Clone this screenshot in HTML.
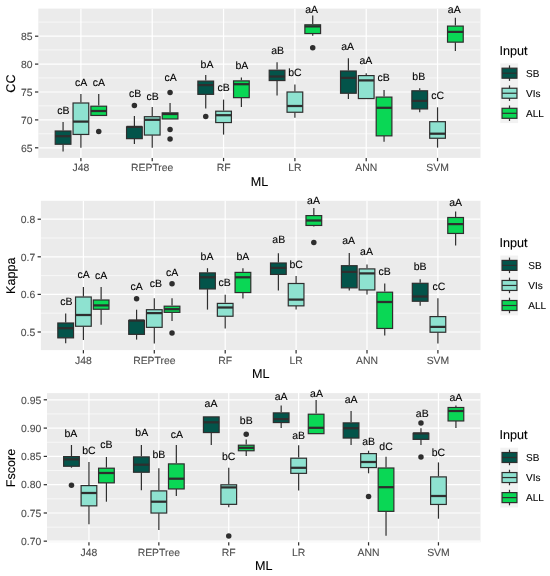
<!DOCTYPE html>
<html><head><meta charset="utf-8"><title>Boxplots</title>
<style>html,body{margin:0;padding:0;background:#fff}svg{display:block}text{font-family:"Liberation Sans",Arial,sans-serif;text-rendering:geometricPrecision;stroke-width:0.1px}text[fill="#000"]{stroke:#000}text[fill="#4D4D4D"]{stroke:#4D4D4D}</style></head><body>
<svg width="550" height="576" viewBox="0 0 550 576">
<rect width="550" height="576" fill="#fff"/>
<g>
<rect x="38.3" y="8.6" width="442.20" height="149.30" fill="#EBEBEB"/>
<clipPath id="cp0"><rect x="38.3" y="8.6" width="442.20" height="149.30"/></clipPath>
<g clip-path="url(#cp0)" stroke="#fff" fill="none">
<line x1="38.3" x2="480.5" y1="22.05" y2="22.05" stroke-width="0.62"/>
<line x1="38.3" x2="480.5" y1="49.95" y2="49.95" stroke-width="0.62"/>
<line x1="38.3" x2="480.5" y1="77.95" y2="77.95" stroke-width="0.62"/>
<line x1="38.3" x2="480.5" y1="105.85" y2="105.85" stroke-width="0.62"/>
<line x1="38.3" x2="480.5" y1="133.75" y2="133.75" stroke-width="0.62"/>
<line x1="38.3" x2="480.5" y1="36.2" y2="36.2" stroke-width="1.22"/>
<line x1="38.3" x2="480.5" y1="64.1" y2="64.1" stroke-width="1.22"/>
<line x1="38.3" x2="480.5" y1="92.0" y2="92.0" stroke-width="1.22"/>
<line x1="38.3" x2="480.5" y1="119.9" y2="119.9" stroke-width="1.22"/>
<line x1="38.3" x2="480.5" y1="147.8" y2="147.8" stroke-width="1.22"/>
<line x1="80.90" x2="80.90" y1="8.6" y2="157.9" stroke-width="1.22"/>
<line x1="152.23" x2="152.23" y1="8.6" y2="157.9" stroke-width="1.22"/>
<line x1="223.56" x2="223.56" y1="8.6" y2="157.9" stroke-width="1.22"/>
<line x1="294.89" x2="294.89" y1="8.6" y2="157.9" stroke-width="1.22"/>
<line x1="366.22" x2="366.22" y1="8.6" y2="157.9" stroke-width="1.22"/>
<line x1="437.55" x2="437.55" y1="8.6" y2="157.9" stroke-width="1.22"/>
</g>
<line x1="63.07" x2="63.07" y1="122" y2="130.4" stroke="#2E2E2E" stroke-width="1.2"/>
<line x1="63.07" x2="63.07" y1="144.4" y2="151.5" stroke="#2E2E2E" stroke-width="1.2"/>
<rect x="55.22" y="131.00" width="15.7" height="13.25" fill="#03544A" stroke="#2E2E2E" stroke-width="1.2"/>
<line x1="55.22" x2="70.92" y1="136.2" y2="136.2" stroke="#2E2E2E" stroke-width="2.25"/>
<line x1="80.90" x2="80.90" y1="94" y2="102.4" stroke="#2E2E2E" stroke-width="1.2"/>
<line x1="80.90" x2="80.90" y1="134.6" y2="147.70000000000002" stroke="#2E2E2E" stroke-width="1.2"/>
<rect x="73.05" y="103.00" width="15.7" height="31.45" fill="#8EE2D0" stroke="#2E2E2E" stroke-width="1.2"/>
<line x1="73.05" x2="88.75" y1="121.6" y2="121.6" stroke="#2E2E2E" stroke-width="2.25"/>
<circle cx="98.73" cy="131.4" r="2.75" fill="#2E2E2E"/>
<line x1="98.73" x2="98.73" y1="94" y2="105.6" stroke="#2E2E2E" stroke-width="1.2"/>
<rect x="90.88" y="106.20" width="15.7" height="9.25" fill="#0AD755" stroke="#2E2E2E" stroke-width="1.2"/>
<line x1="90.88" x2="106.58" y1="111" y2="111" stroke="#2E2E2E" stroke-width="2.25"/>
<circle cx="134.40" cy="105.5" r="2.75" fill="#2E2E2E"/>
<line x1="134.40" x2="134.40" y1="116.1" y2="126.3" stroke="#2E2E2E" stroke-width="1.2"/>
<line x1="134.40" x2="134.40" y1="138.8" y2="144.10000000000002" stroke="#2E2E2E" stroke-width="1.2"/>
<rect x="126.55" y="126.90" width="15.7" height="11.75" fill="#03544A" stroke="#2E2E2E" stroke-width="1.2"/>
<line x1="126.55" x2="142.25" y1="126.9" y2="126.9" stroke="#2E2E2E" stroke-width="2.25"/>
<line x1="152.23" x2="152.23" y1="107" y2="116.1" stroke="#2E2E2E" stroke-width="1.2"/>
<line x1="152.23" x2="152.23" y1="135.2" y2="147.70000000000002" stroke="#2E2E2E" stroke-width="1.2"/>
<rect x="144.38" y="116.70" width="15.7" height="18.35" fill="#8EE2D0" stroke="#2E2E2E" stroke-width="1.2"/>
<line x1="144.38" x2="160.08" y1="119.8" y2="119.8" stroke="#2E2E2E" stroke-width="2.25"/>
<circle cx="170.06" cy="92.4" r="2.75" fill="#2E2E2E"/>
<circle cx="170.06" cy="129.6" r="2.75" fill="#2E2E2E"/>
<circle cx="170.06" cy="138.9" r="2.75" fill="#2E2E2E"/>
<line x1="170.06" x2="170.06" y1="103" y2="112.3" stroke="#2E2E2E" stroke-width="1.2"/>
<rect x="162.21" y="112.90" width="15.7" height="6.05" fill="#0AD755" stroke="#2E2E2E" stroke-width="1.2"/>
<line x1="162.21" x2="177.91" y1="114.0" y2="114.0" stroke="#2E2E2E" stroke-width="2.25"/>
<circle cx="205.73" cy="116.4" r="2.75" fill="#2E2E2E"/>
<line x1="205.73" x2="205.73" y1="75" y2="80.5" stroke="#2E2E2E" stroke-width="1.2"/>
<line x1="205.73" x2="205.73" y1="94.5" y2="108.5" stroke="#2E2E2E" stroke-width="1.2"/>
<rect x="197.88" y="81.10" width="15.7" height="13.25" fill="#03544A" stroke="#2E2E2E" stroke-width="1.2"/>
<line x1="197.88" x2="213.58" y1="85.1" y2="85.1" stroke="#2E2E2E" stroke-width="2.25"/>
<line x1="223.56" x2="223.56" y1="99.6" y2="110.6" stroke="#2E2E2E" stroke-width="1.2"/>
<line x1="223.56" x2="223.56" y1="122.7" y2="134.60000000000002" stroke="#2E2E2E" stroke-width="1.2"/>
<rect x="215.71" y="111.20" width="15.7" height="11.35" fill="#8EE2D0" stroke="#2E2E2E" stroke-width="1.2"/>
<line x1="215.71" x2="231.41" y1="115.2" y2="115.2" stroke="#2E2E2E" stroke-width="2.25"/>
<line x1="241.39" x2="241.39" y1="77.4" y2="80.3" stroke="#2E2E2E" stroke-width="1.2"/>
<line x1="241.39" x2="241.39" y1="97.8" y2="106.89999999999999" stroke="#2E2E2E" stroke-width="1.2"/>
<rect x="233.54" y="80.90" width="15.7" height="16.75" fill="#0AD755" stroke="#2E2E2E" stroke-width="1.2"/>
<line x1="233.54" x2="249.24" y1="84.2" y2="84.2" stroke="#2E2E2E" stroke-width="2.25"/>
<line x1="277.06" x2="277.06" y1="62.3" y2="69.6" stroke="#2E2E2E" stroke-width="1.2"/>
<line x1="277.06" x2="277.06" y1="80.7" y2="95.39999999999999" stroke="#2E2E2E" stroke-width="1.2"/>
<rect x="269.21" y="70.20" width="15.7" height="10.35" fill="#03544A" stroke="#2E2E2E" stroke-width="1.2"/>
<line x1="269.21" x2="284.91" y1="76.5" y2="76.5" stroke="#2E2E2E" stroke-width="2.25"/>
<line x1="294.89" x2="294.89" y1="84.5" y2="91.4" stroke="#2E2E2E" stroke-width="1.2"/>
<line x1="294.89" x2="294.89" y1="112.4" y2="117.8" stroke="#2E2E2E" stroke-width="1.2"/>
<rect x="287.04" y="92.00" width="15.7" height="20.25" fill="#8EE2D0" stroke="#2E2E2E" stroke-width="1.2"/>
<line x1="287.04" x2="302.74" y1="106" y2="106" stroke="#2E2E2E" stroke-width="2.25"/>
<circle cx="312.72" cy="47.7" r="2.75" fill="#2E2E2E"/>
<line x1="312.72" x2="312.72" y1="15.5" y2="24.2" stroke="#2E2E2E" stroke-width="1.2"/>
<line x1="312.72" x2="312.72" y1="33.7" y2="35.8" stroke="#2E2E2E" stroke-width="1.2"/>
<rect x="304.87" y="24.80" width="15.7" height="8.75" fill="#0AD755" stroke="#2E2E2E" stroke-width="1.2"/>
<line x1="304.87" x2="320.57" y1="26.4" y2="26.4" stroke="#2E2E2E" stroke-width="2.25"/>
<line x1="348.39" x2="348.39" y1="58.2" y2="70.4" stroke="#2E2E2E" stroke-width="1.2"/>
<line x1="348.39" x2="348.39" y1="93.4" y2="99.1" stroke="#2E2E2E" stroke-width="1.2"/>
<rect x="340.54" y="71.00" width="15.7" height="22.25" fill="#03544A" stroke="#2E2E2E" stroke-width="1.2"/>
<line x1="340.54" x2="356.24" y1="77.9" y2="77.9" stroke="#2E2E2E" stroke-width="2.25"/>
<line x1="366.22" x2="366.22" y1="73.3" y2="75" stroke="#2E2E2E" stroke-width="1.2"/>
<rect x="358.37" y="75.60" width="15.7" height="22.95" fill="#8EE2D0" stroke="#2E2E2E" stroke-width="1.2"/>
<line x1="358.37" x2="374.07" y1="80.4" y2="80.4" stroke="#2E2E2E" stroke-width="2.25"/>
<line x1="384.05" x2="384.05" y1="90.1" y2="96.5" stroke="#2E2E2E" stroke-width="1.2"/>
<line x1="384.05" x2="384.05" y1="136" y2="141.8" stroke="#2E2E2E" stroke-width="1.2"/>
<rect x="376.20" y="97.10" width="15.7" height="38.75" fill="#0AD755" stroke="#2E2E2E" stroke-width="1.2"/>
<line x1="376.20" x2="391.90" y1="107.8" y2="107.8" stroke="#2E2E2E" stroke-width="2.25"/>
<line x1="419.72" x2="419.72" y1="88.3" y2="90.2" stroke="#2E2E2E" stroke-width="1.2"/>
<line x1="419.72" x2="419.72" y1="109.1" y2="112.3" stroke="#2E2E2E" stroke-width="1.2"/>
<rect x="411.87" y="90.80" width="15.7" height="18.15" fill="#03544A" stroke="#2E2E2E" stroke-width="1.2"/>
<line x1="411.87" x2="427.57" y1="100.9" y2="100.9" stroke="#2E2E2E" stroke-width="2.25"/>
<line x1="437.55" x2="437.55" y1="107.3" y2="121.1" stroke="#2E2E2E" stroke-width="1.2"/>
<line x1="437.55" x2="437.55" y1="138.4" y2="147.60000000000002" stroke="#2E2E2E" stroke-width="1.2"/>
<rect x="429.70" y="121.70" width="15.7" height="16.55" fill="#8EE2D0" stroke="#2E2E2E" stroke-width="1.2"/>
<line x1="429.70" x2="445.40" y1="133.7" y2="133.7" stroke="#2E2E2E" stroke-width="2.25"/>
<line x1="455.38" x2="455.38" y1="17.7" y2="25.5" stroke="#2E2E2E" stroke-width="1.2"/>
<line x1="455.38" x2="455.38" y1="42.3" y2="50.9" stroke="#2E2E2E" stroke-width="1.2"/>
<rect x="447.53" y="26.10" width="15.7" height="16.05" fill="#0AD755" stroke="#2E2E2E" stroke-width="1.2"/>
<line x1="447.53" x2="463.23" y1="31.9" y2="31.9" stroke="#2E2E2E" stroke-width="2.25"/>
<text x="63.27" y="113.6" font-size="10.5" text-anchor="middle" fill="#000">cB</text>
<text x="81.10" y="85.6" font-size="10.5" text-anchor="middle" fill="#000">cA</text>
<text x="98.93" y="85.6" font-size="10.5" text-anchor="middle" fill="#000">cA</text>
<text x="135.20" y="97.3" font-size="10.5" text-anchor="middle" fill="#000">cB</text>
<text x="152.53" y="99.7" font-size="10.5" text-anchor="middle" fill="#000">cB</text>
<text x="170.56" y="80.9" font-size="10.5" text-anchor="middle" fill="#000">cA</text>
<text x="207.03" y="67.8" font-size="10.5" text-anchor="middle" fill="#000">bA</text>
<text x="223.66" y="91.4" font-size="10.5" text-anchor="middle" fill="#000">cB</text>
<text x="241.89" y="68.7" font-size="10.5" text-anchor="middle" fill="#000">bA</text>
<text x="277.66" y="53.7" font-size="10.5" text-anchor="middle" fill="#000">aB</text>
<text x="294.99" y="75.6" font-size="10.5" text-anchor="middle" fill="#000">bC</text>
<text x="311.62" y="12.9" font-size="10.5" text-anchor="middle" fill="#000">aA</text>
<text x="347.69" y="49.5" font-size="10.5" text-anchor="middle" fill="#000">aA</text>
<text x="365.92" y="64.2" font-size="10.5" text-anchor="middle" fill="#000">aA</text>
<text x="383.75" y="81" font-size="10.5" text-anchor="middle" fill="#000">cB</text>
<text x="418.72" y="79.6" font-size="10.5" text-anchor="middle" fill="#000">bB</text>
<text x="437.65" y="99.1" font-size="10.5" text-anchor="middle" fill="#000">cC</text>
<text x="454.28" y="13.3" font-size="10.5" text-anchor="middle" fill="#000">aA</text>
<line x1="35.00" x2="38.3" y1="36.2" y2="36.2" stroke="#2E2E2E" stroke-width="1.22"/>
<text x="32.60" y="39.90" font-size="10.4" text-anchor="end" fill="#4D4D4D">85</text>
<line x1="35.00" x2="38.3" y1="64.1" y2="64.1" stroke="#2E2E2E" stroke-width="1.22"/>
<text x="32.60" y="67.80" font-size="10.4" text-anchor="end" fill="#4D4D4D">80</text>
<line x1="35.00" x2="38.3" y1="92.0" y2="92.0" stroke="#2E2E2E" stroke-width="1.22"/>
<text x="32.60" y="95.70" font-size="10.4" text-anchor="end" fill="#4D4D4D">75</text>
<line x1="35.00" x2="38.3" y1="119.9" y2="119.9" stroke="#2E2E2E" stroke-width="1.22"/>
<text x="32.60" y="123.60" font-size="10.4" text-anchor="end" fill="#4D4D4D">70</text>
<line x1="35.00" x2="38.3" y1="147.8" y2="147.8" stroke="#2E2E2E" stroke-width="1.22"/>
<text x="32.60" y="151.50" font-size="10.4" text-anchor="end" fill="#4D4D4D">65</text>
<line x1="80.90" x2="80.90" y1="157.9" y2="161.20" stroke="#2E2E2E" stroke-width="1.22"/>
<text x="80.90" y="171.4" font-size="10.4" text-anchor="middle" fill="#4D4D4D">J48</text>
<line x1="152.23" x2="152.23" y1="157.9" y2="161.20" stroke="#2E2E2E" stroke-width="1.22"/>
<text x="152.23" y="171.4" font-size="10.4" text-anchor="middle" fill="#4D4D4D">REPTree</text>
<line x1="223.56" x2="223.56" y1="157.9" y2="161.20" stroke="#2E2E2E" stroke-width="1.22"/>
<text x="223.56" y="171.4" font-size="10.4" text-anchor="middle" fill="#4D4D4D">RF</text>
<line x1="294.89" x2="294.89" y1="157.9" y2="161.20" stroke="#2E2E2E" stroke-width="1.22"/>
<text x="294.89" y="171.4" font-size="10.4" text-anchor="middle" fill="#4D4D4D">LR</text>
<line x1="366.22" x2="366.22" y1="157.9" y2="161.20" stroke="#2E2E2E" stroke-width="1.22"/>
<text x="366.22" y="171.4" font-size="10.4" text-anchor="middle" fill="#4D4D4D">ANN</text>
<line x1="437.55" x2="437.55" y1="157.9" y2="161.20" stroke="#2E2E2E" stroke-width="1.22"/>
<text x="437.55" y="171.4" font-size="10.4" text-anchor="middle" fill="#4D4D4D">SVM</text>
<text x="259.40" y="186.0" font-size="12.6" text-anchor="middle" fill="#000">ML</text>
<text transform="translate(15.2 83.55) rotate(-90)" font-size="12.6" text-anchor="middle" fill="#000">CC</text>
<text x="499.6" y="54.70" font-size="12.6" fill="#000">Input</text>
<rect x="500.3" y="63.38" width="17.8" height="59.75" fill="#F2F2F2"/>
<line x1="509.5" x2="509.5" y1="65.40" y2="80.90" stroke="#2E2E2E" stroke-width="1.2"/>
<rect x="502.05" y="68.20" width="14.9" height="10.0" fill="#03544A" stroke="#2E2E2E" stroke-width="1.2"/>
<line x1="502.05" x2="516.95" y1="73.2" y2="73.2" stroke="#2E2E2E" stroke-width="1.2"/>
<text x="526.0" y="76.80" font-size="10.0" fill="#000">SB</text>
<line x1="509.5" x2="509.5" y1="85.45" y2="100.95" stroke="#2E2E2E" stroke-width="1.2"/>
<rect x="502.05" y="88.25" width="14.9" height="10.0" fill="#8EE2D0" stroke="#2E2E2E" stroke-width="1.2"/>
<line x1="502.05" x2="516.95" y1="93.25" y2="93.25" stroke="#2E2E2E" stroke-width="1.2"/>
<text x="526.0" y="96.85" font-size="10.0" fill="#000">VIs</text>
<line x1="509.5" x2="509.5" y1="105.50" y2="121.00" stroke="#2E2E2E" stroke-width="1.2"/>
<rect x="502.05" y="108.30" width="14.9" height="10.0" fill="#0AD755" stroke="#2E2E2E" stroke-width="1.2"/>
<line x1="502.05" x2="516.95" y1="113.30000000000001" y2="113.30000000000001" stroke="#2E2E2E" stroke-width="1.2"/>
<text x="526.0" y="116.90" font-size="10.0" fill="#000">ALL</text>
</g>
<g>
<rect x="40.9" y="200.8" width="439.60" height="149.30" fill="#EBEBEB"/>
<clipPath id="cp1"><rect x="40.9" y="200.8" width="439.60" height="149.30"/></clipPath>
<g clip-path="url(#cp1)" stroke="#fff" fill="none">
<line x1="40.9" x2="480.5" y1="238.0" y2="238.0" stroke-width="0.62"/>
<line x1="40.9" x2="480.5" y1="275.6" y2="275.6" stroke-width="0.62"/>
<line x1="40.9" x2="480.5" y1="313.2" y2="313.2" stroke-width="0.62"/>
<line x1="40.9" x2="480.5" y1="219.2" y2="219.2" stroke-width="1.22"/>
<line x1="40.9" x2="480.5" y1="256.8" y2="256.8" stroke-width="1.22"/>
<line x1="40.9" x2="480.5" y1="294.4" y2="294.4" stroke-width="1.22"/>
<line x1="40.9" x2="480.5" y1="332.0" y2="332.0" stroke-width="1.22"/>
<line x1="83.40" x2="83.40" y1="200.8" y2="350.1" stroke-width="1.22"/>
<line x1="154.30" x2="154.30" y1="200.8" y2="350.1" stroke-width="1.22"/>
<line x1="225.20" x2="225.20" y1="200.8" y2="350.1" stroke-width="1.22"/>
<line x1="296.10" x2="296.10" y1="200.8" y2="350.1" stroke-width="1.22"/>
<line x1="367.00" x2="367.00" y1="200.8" y2="350.1" stroke-width="1.22"/>
<line x1="437.90" x2="437.90" y1="200.8" y2="350.1" stroke-width="1.22"/>
</g>
<line x1="65.68" x2="65.68" y1="313.6" y2="322.4" stroke="#2E2E2E" stroke-width="1.2"/>
<line x1="65.68" x2="65.68" y1="338" y2="343.3" stroke="#2E2E2E" stroke-width="1.2"/>
<rect x="57.83" y="323.00" width="15.7" height="14.85" fill="#03544A" stroke="#2E2E2E" stroke-width="1.2"/>
<line x1="57.83" x2="73.53" y1="328.2" y2="328.2" stroke="#2E2E2E" stroke-width="2.25"/>
<line x1="83.40" x2="83.40" y1="287" y2="296.4" stroke="#2E2E2E" stroke-width="1.2"/>
<line x1="83.40" x2="83.40" y1="326.4" y2="339.90000000000003" stroke="#2E2E2E" stroke-width="1.2"/>
<rect x="75.55" y="297.00" width="15.7" height="29.25" fill="#8EE2D0" stroke="#2E2E2E" stroke-width="1.2"/>
<line x1="75.55" x2="91.25" y1="315" y2="315" stroke="#2E2E2E" stroke-width="2.25"/>
<line x1="101.12" x2="101.12" y1="287" y2="299.4" stroke="#2E2E2E" stroke-width="1.2"/>
<line x1="101.12" x2="101.12" y1="309.4" y2="324.7" stroke="#2E2E2E" stroke-width="1.2"/>
<rect x="93.28" y="300.00" width="15.7" height="9.25" fill="#0AD755" stroke="#2E2E2E" stroke-width="1.2"/>
<line x1="93.28" x2="108.97" y1="305.4" y2="305.4" stroke="#2E2E2E" stroke-width="2.25"/>
<circle cx="136.58" cy="298.8" r="2.75" fill="#2E2E2E"/>
<line x1="136.58" x2="136.58" y1="309.7" y2="319.9" stroke="#2E2E2E" stroke-width="1.2"/>
<line x1="136.58" x2="136.58" y1="334.5" y2="339.6" stroke="#2E2E2E" stroke-width="1.2"/>
<rect x="128.73" y="320.50" width="15.7" height="13.85" fill="#03544A" stroke="#2E2E2E" stroke-width="1.2"/>
<line x1="128.73" x2="144.43" y1="320.5" y2="320.5" stroke="#2E2E2E" stroke-width="2.25"/>
<line x1="154.30" x2="154.30" y1="298.3" y2="309.1" stroke="#2E2E2E" stroke-width="1.2"/>
<line x1="154.30" x2="154.30" y1="327.5" y2="343.6" stroke="#2E2E2E" stroke-width="1.2"/>
<rect x="146.45" y="309.70" width="15.7" height="17.65" fill="#8EE2D0" stroke="#2E2E2E" stroke-width="1.2"/>
<line x1="146.45" x2="162.15" y1="313.1" y2="313.1" stroke="#2E2E2E" stroke-width="2.25"/>
<circle cx="172.03" cy="283.7" r="2.75" fill="#2E2E2E"/>
<circle cx="172.03" cy="332.9" r="2.75" fill="#2E2E2E"/>
<line x1="172.03" x2="172.03" y1="298.3" y2="305.6" stroke="#2E2E2E" stroke-width="1.2"/>
<line x1="172.03" x2="172.03" y1="312.5" y2="321.0" stroke="#2E2E2E" stroke-width="1.2"/>
<rect x="164.18" y="306.20" width="15.7" height="6.15" fill="#0AD755" stroke="#2E2E2E" stroke-width="1.2"/>
<line x1="164.18" x2="179.88" y1="309.2" y2="309.2" stroke="#2E2E2E" stroke-width="2.25"/>
<line x1="207.48" x2="207.48" y1="268.2" y2="272.3" stroke="#2E2E2E" stroke-width="1.2"/>
<line x1="207.48" x2="207.48" y1="289.1" y2="309.6" stroke="#2E2E2E" stroke-width="1.2"/>
<rect x="199.63" y="272.90" width="15.7" height="16.05" fill="#03544A" stroke="#2E2E2E" stroke-width="1.2"/>
<line x1="199.63" x2="215.33" y1="277.3" y2="277.3" stroke="#2E2E2E" stroke-width="2.25"/>
<line x1="225.20" x2="225.20" y1="294.7" y2="302.8" stroke="#2E2E2E" stroke-width="1.2"/>
<line x1="225.20" x2="225.20" y1="316.4" y2="328.6" stroke="#2E2E2E" stroke-width="1.2"/>
<rect x="217.35" y="303.40" width="15.7" height="12.85" fill="#8EE2D0" stroke="#2E2E2E" stroke-width="1.2"/>
<line x1="217.35" x2="233.05" y1="307.5" y2="307.5" stroke="#2E2E2E" stroke-width="2.25"/>
<line x1="242.93" x2="242.93" y1="268.2" y2="271.8" stroke="#2E2E2E" stroke-width="1.2"/>
<line x1="242.93" x2="242.93" y1="292.7" y2="298.5" stroke="#2E2E2E" stroke-width="1.2"/>
<rect x="235.08" y="272.40" width="15.7" height="20.15" fill="#0AD755" stroke="#2E2E2E" stroke-width="1.2"/>
<line x1="235.08" x2="250.78" y1="277.3" y2="277.3" stroke="#2E2E2E" stroke-width="2.25"/>
<line x1="278.38" x2="278.38" y1="253.3" y2="262.4" stroke="#2E2E2E" stroke-width="1.2"/>
<line x1="278.38" x2="278.38" y1="274.6" y2="290.6" stroke="#2E2E2E" stroke-width="1.2"/>
<rect x="270.52" y="263.00" width="15.7" height="11.45" fill="#03544A" stroke="#2E2E2E" stroke-width="1.2"/>
<line x1="270.52" x2="286.23" y1="267.9" y2="267.9" stroke="#2E2E2E" stroke-width="2.25"/>
<line x1="296.10" x2="296.10" y1="276" y2="282.9" stroke="#2E2E2E" stroke-width="1.2"/>
<line x1="296.10" x2="296.10" y1="306" y2="309.40000000000003" stroke="#2E2E2E" stroke-width="1.2"/>
<rect x="288.25" y="283.50" width="15.7" height="22.35" fill="#8EE2D0" stroke="#2E2E2E" stroke-width="1.2"/>
<line x1="288.25" x2="303.95" y1="299.6" y2="299.6" stroke="#2E2E2E" stroke-width="2.25"/>
<circle cx="313.83" cy="242.4" r="2.75" fill="#2E2E2E"/>
<line x1="313.83" x2="313.83" y1="208.1" y2="215" stroke="#2E2E2E" stroke-width="1.2"/>
<line x1="313.83" x2="313.83" y1="225.6" y2="226.60000000000002" stroke="#2E2E2E" stroke-width="1.2"/>
<rect x="305.98" y="215.60" width="15.7" height="9.85" fill="#0AD755" stroke="#2E2E2E" stroke-width="1.2"/>
<line x1="305.98" x2="321.68" y1="220.5" y2="220.5" stroke="#2E2E2E" stroke-width="2.25"/>
<line x1="349.27" x2="349.27" y1="253.1" y2="265.1" stroke="#2E2E2E" stroke-width="1.2"/>
<line x1="349.27" x2="349.27" y1="288" y2="290.40000000000003" stroke="#2E2E2E" stroke-width="1.2"/>
<rect x="341.42" y="265.70" width="15.7" height="22.15" fill="#03544A" stroke="#2E2E2E" stroke-width="1.2"/>
<line x1="341.42" x2="357.12" y1="271.9" y2="271.9" stroke="#2E2E2E" stroke-width="2.25"/>
<line x1="367.00" x2="367.00" y1="264.6" y2="268.3" stroke="#2E2E2E" stroke-width="1.2"/>
<line x1="367.00" x2="367.00" y1="290.1" y2="294.40000000000003" stroke="#2E2E2E" stroke-width="1.2"/>
<rect x="359.15" y="268.90" width="15.7" height="21.05" fill="#8EE2D0" stroke="#2E2E2E" stroke-width="1.2"/>
<line x1="359.15" x2="374.85" y1="273.4" y2="273.4" stroke="#2E2E2E" stroke-width="2.25"/>
<line x1="384.73" x2="384.73" y1="283.4" y2="291.6" stroke="#2E2E2E" stroke-width="1.2"/>
<line x1="384.73" x2="384.73" y1="328.6" y2="335.40000000000003" stroke="#2E2E2E" stroke-width="1.2"/>
<rect x="376.88" y="292.20" width="15.7" height="36.25" fill="#0AD755" stroke="#2E2E2E" stroke-width="1.2"/>
<line x1="376.88" x2="392.58" y1="302" y2="302" stroke="#2E2E2E" stroke-width="2.25"/>
<line x1="420.17" x2="420.17" y1="279.2" y2="282.7" stroke="#2E2E2E" stroke-width="1.2"/>
<line x1="420.17" x2="420.17" y1="301.4" y2="305.7" stroke="#2E2E2E" stroke-width="1.2"/>
<rect x="412.32" y="283.30" width="15.7" height="17.95" fill="#03544A" stroke="#2E2E2E" stroke-width="1.2"/>
<line x1="412.32" x2="428.02" y1="296.5" y2="296.5" stroke="#2E2E2E" stroke-width="2.25"/>
<line x1="437.90" x2="437.90" y1="298.3" y2="316" stroke="#2E2E2E" stroke-width="1.2"/>
<line x1="437.90" x2="437.90" y1="332.4" y2="343.6" stroke="#2E2E2E" stroke-width="1.2"/>
<rect x="430.05" y="316.60" width="15.7" height="15.65" fill="#8EE2D0" stroke="#2E2E2E" stroke-width="1.2"/>
<line x1="430.05" x2="445.75" y1="326.9" y2="326.9" stroke="#2E2E2E" stroke-width="2.25"/>
<line x1="455.62" x2="455.62" y1="211.4" y2="216.9" stroke="#2E2E2E" stroke-width="1.2"/>
<line x1="455.62" x2="455.62" y1="233.6" y2="245.4" stroke="#2E2E2E" stroke-width="1.2"/>
<rect x="447.77" y="217.50" width="15.7" height="15.95" fill="#0AD755" stroke="#2E2E2E" stroke-width="1.2"/>
<line x1="447.77" x2="463.48" y1="224.1" y2="224.1" stroke="#2E2E2E" stroke-width="2.25"/>
<text x="66.48" y="304.8" font-size="10.5" text-anchor="middle" fill="#000">cB</text>
<text x="83.60" y="277.6" font-size="10.5" text-anchor="middle" fill="#000">cA</text>
<text x="101.22" y="278.6" font-size="10.5" text-anchor="middle" fill="#000">cA</text>
<text x="136.58" y="289.5" font-size="10.5" text-anchor="middle" fill="#000">cA</text>
<text x="155.80" y="287.1" font-size="10.5" text-anchor="middle" fill="#000">cB</text>
<text x="172.03" y="275.5" font-size="10.5" text-anchor="middle" fill="#000">cA</text>
<text x="206.98" y="260.0" font-size="10.5" text-anchor="middle" fill="#000">bA</text>
<text x="224.70" y="285.5" font-size="10.5" text-anchor="middle" fill="#000">cB</text>
<text x="242.93" y="260.0" font-size="10.5" text-anchor="middle" fill="#000">bA</text>
<text x="278.77" y="243.1" font-size="10.5" text-anchor="middle" fill="#000">aB</text>
<text x="296.10" y="268.2" font-size="10.5" text-anchor="middle" fill="#000">bC</text>
<text x="313.53" y="204.0" font-size="10.5" text-anchor="middle" fill="#000">aA</text>
<text x="348.67" y="244" font-size="10.5" text-anchor="middle" fill="#000">aA</text>
<text x="366.50" y="254.6" font-size="10.5" text-anchor="middle" fill="#000">aA</text>
<text x="384.53" y="274.6" font-size="10.5" text-anchor="middle" fill="#000">cB</text>
<text x="420.17" y="269.6" font-size="10.5" text-anchor="middle" fill="#000">bB</text>
<text x="438.80" y="290.2" font-size="10.5" text-anchor="middle" fill="#000">cC</text>
<text x="455.62" y="205.9" font-size="10.5" text-anchor="middle" fill="#000">aA</text>
<line x1="37.60" x2="40.9" y1="219.2" y2="219.2" stroke="#2E2E2E" stroke-width="1.22"/>
<text x="35.20" y="222.90" font-size="10.4" text-anchor="end" fill="#4D4D4D">0.8</text>
<line x1="37.60" x2="40.9" y1="256.8" y2="256.8" stroke="#2E2E2E" stroke-width="1.22"/>
<text x="35.20" y="260.50" font-size="10.4" text-anchor="end" fill="#4D4D4D">0.7</text>
<line x1="37.60" x2="40.9" y1="294.4" y2="294.4" stroke="#2E2E2E" stroke-width="1.22"/>
<text x="35.20" y="298.10" font-size="10.4" text-anchor="end" fill="#4D4D4D">0.6</text>
<line x1="37.60" x2="40.9" y1="332.0" y2="332.0" stroke="#2E2E2E" stroke-width="1.22"/>
<text x="35.20" y="335.70" font-size="10.4" text-anchor="end" fill="#4D4D4D">0.5</text>
<line x1="83.40" x2="83.40" y1="350.1" y2="353.40" stroke="#2E2E2E" stroke-width="1.22"/>
<text x="83.40" y="364.0" font-size="10.4" text-anchor="middle" fill="#4D4D4D">J48</text>
<line x1="154.30" x2="154.30" y1="350.1" y2="353.40" stroke="#2E2E2E" stroke-width="1.22"/>
<text x="154.30" y="364.0" font-size="10.4" text-anchor="middle" fill="#4D4D4D">REPTree</text>
<line x1="225.20" x2="225.20" y1="350.1" y2="353.40" stroke="#2E2E2E" stroke-width="1.22"/>
<text x="225.20" y="364.0" font-size="10.4" text-anchor="middle" fill="#4D4D4D">RF</text>
<line x1="296.10" x2="296.10" y1="350.1" y2="353.40" stroke="#2E2E2E" stroke-width="1.22"/>
<text x="296.10" y="364.0" font-size="10.4" text-anchor="middle" fill="#4D4D4D">LR</text>
<line x1="367.00" x2="367.00" y1="350.1" y2="353.40" stroke="#2E2E2E" stroke-width="1.22"/>
<text x="367.00" y="364.0" font-size="10.4" text-anchor="middle" fill="#4D4D4D">ANN</text>
<line x1="437.90" x2="437.90" y1="350.1" y2="353.40" stroke="#2E2E2E" stroke-width="1.22"/>
<text x="437.90" y="364.0" font-size="10.4" text-anchor="middle" fill="#4D4D4D">SVM</text>
<text x="260.70" y="378.4" font-size="12.6" text-anchor="middle" fill="#000">ML</text>
<text transform="translate(15.2 275.75) rotate(-90)" font-size="12.6" text-anchor="middle" fill="#000">Kappa</text>
<text x="499.6" y="246.90" font-size="12.6" fill="#000">Input</text>
<rect x="500.3" y="255.57" width="17.8" height="59.75" fill="#F2F2F2"/>
<line x1="509.5" x2="509.5" y1="257.60" y2="273.10" stroke="#2E2E2E" stroke-width="1.2"/>
<rect x="502.05" y="260.40" width="14.9" height="10.0" fill="#03544A" stroke="#2E2E2E" stroke-width="1.2"/>
<line x1="502.05" x2="516.95" y1="265.4" y2="265.4" stroke="#2E2E2E" stroke-width="1.2"/>
<text x="528.3" y="269.00" font-size="10.0" fill="#000">SB</text>
<line x1="509.5" x2="509.5" y1="277.65" y2="293.15" stroke="#2E2E2E" stroke-width="1.2"/>
<rect x="502.05" y="280.45" width="14.9" height="10.0" fill="#8EE2D0" stroke="#2E2E2E" stroke-width="1.2"/>
<line x1="502.05" x2="516.95" y1="285.45" y2="285.45" stroke="#2E2E2E" stroke-width="1.2"/>
<text x="528.3" y="289.05" font-size="10.0" fill="#000">VIs</text>
<line x1="509.5" x2="509.5" y1="297.70" y2="313.20" stroke="#2E2E2E" stroke-width="1.2"/>
<rect x="502.05" y="300.50" width="14.9" height="10.0" fill="#0AD755" stroke="#2E2E2E" stroke-width="1.2"/>
<line x1="502.05" x2="516.95" y1="305.5" y2="305.5" stroke="#2E2E2E" stroke-width="1.2"/>
<text x="528.3" y="309.10" font-size="10.0" fill="#000">ALL</text>
</g>
<g>
<rect x="47.0" y="393.1" width="433.50" height="149.10" fill="#EBEBEB"/>
<clipPath id="cp2"><rect x="47.0" y="393.1" width="433.50" height="149.10"/></clipPath>
<g clip-path="url(#cp2)" stroke="#fff" fill="none">
<line x1="47.0" x2="480.5" y1="413.95" y2="413.95" stroke-width="0.62"/>
<line x1="47.0" x2="480.5" y1="442.25" y2="442.25" stroke-width="0.62"/>
<line x1="47.0" x2="480.5" y1="470.55" y2="470.55" stroke-width="0.62"/>
<line x1="47.0" x2="480.5" y1="498.85" y2="498.85" stroke-width="0.62"/>
<line x1="47.0" x2="480.5" y1="527.15" y2="527.15" stroke-width="0.62"/>
<line x1="47.0" x2="480.5" y1="399.8" y2="399.8" stroke-width="1.22"/>
<line x1="47.0" x2="480.5" y1="428.1" y2="428.1" stroke-width="1.22"/>
<line x1="47.0" x2="480.5" y1="456.4" y2="456.4" stroke-width="1.22"/>
<line x1="47.0" x2="480.5" y1="484.7" y2="484.7" stroke-width="1.22"/>
<line x1="47.0" x2="480.5" y1="513.0" y2="513.0" stroke-width="1.22"/>
<line x1="47.0" x2="480.5" y1="541.15" y2="541.15" stroke-width="1.22"/>
<line x1="88.95" x2="88.95" y1="393.1" y2="542.2" stroke-width="1.22"/>
<line x1="158.85" x2="158.85" y1="393.1" y2="542.2" stroke-width="1.22"/>
<line x1="228.75" x2="228.75" y1="393.1" y2="542.2" stroke-width="1.22"/>
<line x1="298.65" x2="298.65" y1="393.1" y2="542.2" stroke-width="1.22"/>
<line x1="368.55" x2="368.55" y1="393.1" y2="542.2" stroke-width="1.22"/>
<line x1="438.45" x2="438.45" y1="393.1" y2="542.2" stroke-width="1.22"/>
</g>
<circle cx="71.47" cy="485.2" r="2.75" fill="#2E2E2E"/>
<line x1="71.47" x2="71.47" y1="445" y2="456" stroke="#2E2E2E" stroke-width="1.2"/>
<line x1="71.47" x2="71.47" y1="466.4" y2="467.7" stroke="#2E2E2E" stroke-width="1.2"/>
<rect x="63.62" y="456.60" width="15.7" height="9.65" fill="#03544A" stroke="#2E2E2E" stroke-width="1.2"/>
<line x1="63.62" x2="79.32" y1="459.4" y2="459.4" stroke="#2E2E2E" stroke-width="2.25"/>
<line x1="88.95" x2="88.95" y1="462" y2="485" stroke="#2E2E2E" stroke-width="1.2"/>
<line x1="88.95" x2="88.95" y1="506" y2="524.3" stroke="#2E2E2E" stroke-width="1.2"/>
<rect x="81.10" y="485.60" width="15.7" height="20.25" fill="#8EE2D0" stroke="#2E2E2E" stroke-width="1.2"/>
<line x1="81.10" x2="96.80" y1="493" y2="493" stroke="#2E2E2E" stroke-width="2.25"/>
<line x1="106.43" x2="106.43" y1="457" y2="467.6" stroke="#2E2E2E" stroke-width="1.2"/>
<line x1="106.43" x2="106.43" y1="483" y2="501.7" stroke="#2E2E2E" stroke-width="1.2"/>
<rect x="98.58" y="468.20" width="15.7" height="14.65" fill="#0AD755" stroke="#2E2E2E" stroke-width="1.2"/>
<line x1="98.58" x2="114.28" y1="473" y2="473" stroke="#2E2E2E" stroke-width="2.25"/>
<line x1="141.38" x2="141.38" y1="445" y2="456.3" stroke="#2E2E2E" stroke-width="1.2"/>
<line x1="141.38" x2="141.38" y1="472.4" y2="490.3" stroke="#2E2E2E" stroke-width="1.2"/>
<rect x="133.53" y="456.90" width="15.7" height="15.35" fill="#03544A" stroke="#2E2E2E" stroke-width="1.2"/>
<line x1="133.53" x2="149.23" y1="464.7" y2="464.7" stroke="#2E2E2E" stroke-width="2.25"/>
<line x1="158.85" x2="158.85" y1="468.2" y2="490.3" stroke="#2E2E2E" stroke-width="1.2"/>
<line x1="158.85" x2="158.85" y1="513.2" y2="529.9" stroke="#2E2E2E" stroke-width="1.2"/>
<rect x="151.00" y="490.90" width="15.7" height="22.15" fill="#8EE2D0" stroke="#2E2E2E" stroke-width="1.2"/>
<line x1="151.00" x2="166.70" y1="501.7" y2="501.7" stroke="#2E2E2E" stroke-width="2.25"/>
<line x1="176.33" x2="176.33" y1="445" y2="463.3" stroke="#2E2E2E" stroke-width="1.2"/>
<line x1="176.33" x2="176.33" y1="489.1" y2="496.0" stroke="#2E2E2E" stroke-width="1.2"/>
<rect x="168.48" y="463.90" width="15.7" height="25.05" fill="#0AD755" stroke="#2E2E2E" stroke-width="1.2"/>
<line x1="168.48" x2="184.18" y1="478.7" y2="478.7" stroke="#2E2E2E" stroke-width="2.25"/>
<line x1="211.28" x2="211.28" y1="432.7" y2="444.90000000000003" stroke="#2E2E2E" stroke-width="1.2"/>
<rect x="203.43" y="416.90" width="15.7" height="15.65" fill="#03544A" stroke="#2E2E2E" stroke-width="1.2"/>
<line x1="203.43" x2="219.12" y1="422.3" y2="422.3" stroke="#2E2E2E" stroke-width="2.25"/>
<circle cx="228.75" cy="536.0" r="2.75" fill="#2E2E2E"/>
<line x1="228.75" x2="228.75" y1="467.8" y2="484.2" stroke="#2E2E2E" stroke-width="1.2"/>
<line x1="228.75" x2="228.75" y1="504.5" y2="507.2" stroke="#2E2E2E" stroke-width="1.2"/>
<rect x="220.90" y="484.80" width="15.7" height="19.55" fill="#8EE2D0" stroke="#2E2E2E" stroke-width="1.2"/>
<line x1="220.90" x2="236.60" y1="487.4" y2="487.4" stroke="#2E2E2E" stroke-width="2.25"/>
<circle cx="246.22" cy="434.2" r="2.75" fill="#2E2E2E"/>
<line x1="246.22" x2="246.22" y1="439.6" y2="444.6" stroke="#2E2E2E" stroke-width="1.2"/>
<line x1="246.22" x2="246.22" y1="450.9" y2="456.0" stroke="#2E2E2E" stroke-width="1.2"/>
<rect x="238.38" y="445.20" width="15.7" height="5.55" fill="#0AD755" stroke="#2E2E2E" stroke-width="1.2"/>
<line x1="238.38" x2="254.07" y1="447.8" y2="447.8" stroke="#2E2E2E" stroke-width="2.25"/>
<line x1="281.18" x2="281.18" y1="405.4" y2="412.3" stroke="#2E2E2E" stroke-width="1.2"/>
<line x1="281.18" x2="281.18" y1="422.7" y2="428.1" stroke="#2E2E2E" stroke-width="1.2"/>
<rect x="273.32" y="412.90" width="15.7" height="9.65" fill="#03544A" stroke="#2E2E2E" stroke-width="1.2"/>
<line x1="273.32" x2="289.03" y1="419.1" y2="419.1" stroke="#2E2E2E" stroke-width="2.25"/>
<line x1="298.65" x2="298.65" y1="445.3" y2="457.6" stroke="#2E2E2E" stroke-width="1.2"/>
<line x1="298.65" x2="298.65" y1="473.5" y2="490.40000000000003" stroke="#2E2E2E" stroke-width="1.2"/>
<rect x="290.80" y="458.20" width="15.7" height="15.15" fill="#8EE2D0" stroke="#2E2E2E" stroke-width="1.2"/>
<line x1="290.80" x2="306.50" y1="467.8" y2="467.8" stroke="#2E2E2E" stroke-width="2.25"/>
<line x1="316.13" x2="316.13" y1="399.9" y2="413.6" stroke="#2E2E2E" stroke-width="1.2"/>
<rect x="308.28" y="414.20" width="15.7" height="19.45" fill="#0AD755" stroke="#2E2E2E" stroke-width="1.2"/>
<line x1="308.28" x2="323.98" y1="427.8" y2="427.8" stroke="#2E2E2E" stroke-width="2.25"/>
<line x1="351.07" x2="351.07" y1="411" y2="422.3" stroke="#2E2E2E" stroke-width="1.2"/>
<line x1="351.07" x2="351.07" y1="438.2" y2="444.90000000000003" stroke="#2E2E2E" stroke-width="1.2"/>
<rect x="343.22" y="422.90" width="15.7" height="15.15" fill="#03544A" stroke="#2E2E2E" stroke-width="1.2"/>
<line x1="343.22" x2="358.93" y1="428.2" y2="428.2" stroke="#2E2E2E" stroke-width="2.25"/>
<circle cx="368.55" cy="496.5" r="2.75" fill="#2E2E2E"/>
<line x1="368.55" x2="368.55" y1="450.7" y2="453.0" stroke="#2E2E2E" stroke-width="1.2"/>
<line x1="368.55" x2="368.55" y1="467.7" y2="473.3" stroke="#2E2E2E" stroke-width="1.2"/>
<rect x="360.70" y="453.60" width="15.7" height="13.95" fill="#8EE2D0" stroke="#2E2E2E" stroke-width="1.2"/>
<line x1="360.70" x2="376.40" y1="462" y2="462" stroke="#2E2E2E" stroke-width="2.25"/>
<line x1="386.03" x2="386.03" y1="456.7" y2="467.4" stroke="#2E2E2E" stroke-width="1.2"/>
<line x1="386.03" x2="386.03" y1="511.5" y2="535.8" stroke="#2E2E2E" stroke-width="1.2"/>
<rect x="378.18" y="468.00" width="15.7" height="43.35" fill="#0AD755" stroke="#2E2E2E" stroke-width="1.2"/>
<line x1="378.18" x2="393.88" y1="487.2" y2="487.2" stroke="#2E2E2E" stroke-width="2.25"/>
<circle cx="420.97" cy="422.9" r="2.75" fill="#2E2E2E"/>
<circle cx="420.97" cy="456.9" r="2.75" fill="#2E2E2E"/>
<line x1="420.97" x2="420.97" y1="428.2" y2="432.7" stroke="#2E2E2E" stroke-width="1.2"/>
<line x1="420.97" x2="420.97" y1="439.5" y2="444.90000000000003" stroke="#2E2E2E" stroke-width="1.2"/>
<rect x="413.12" y="433.30" width="15.7" height="6.05" fill="#03544A" stroke="#2E2E2E" stroke-width="1.2"/>
<line x1="413.12" x2="428.82" y1="433.4" y2="433.4" stroke="#2E2E2E" stroke-width="2.25"/>
<line x1="438.45" x2="438.45" y1="462.4" y2="476.3" stroke="#2E2E2E" stroke-width="1.2"/>
<line x1="438.45" x2="438.45" y1="504.6" y2="518.6999999999999" stroke="#2E2E2E" stroke-width="1.2"/>
<rect x="430.60" y="476.90" width="15.7" height="27.55" fill="#8EE2D0" stroke="#2E2E2E" stroke-width="1.2"/>
<line x1="430.60" x2="446.30" y1="496" y2="496" stroke="#2E2E2E" stroke-width="2.25"/>
<line x1="455.93" x2="455.93" y1="405.6" y2="406.9" stroke="#2E2E2E" stroke-width="1.2"/>
<line x1="455.93" x2="455.93" y1="421.1" y2="428.1" stroke="#2E2E2E" stroke-width="1.2"/>
<rect x="448.07" y="407.50" width="15.7" height="13.45" fill="#0AD755" stroke="#2E2E2E" stroke-width="1.2"/>
<line x1="448.07" x2="463.78" y1="411" y2="411" stroke="#2E2E2E" stroke-width="2.25"/>
<text x="70.88" y="437" font-size="10.5" text-anchor="middle" fill="#000">bA</text>
<text x="88.95" y="454.4" font-size="10.5" text-anchor="middle" fill="#000">bC</text>
<text x="106.43" y="448.4" font-size="10.5" text-anchor="middle" fill="#000">cB</text>
<text x="141.78" y="436.3" font-size="10.5" text-anchor="middle" fill="#000">bA</text>
<text x="158.85" y="457.8" font-size="10.5" text-anchor="middle" fill="#000">bB</text>
<text x="176.83" y="438.1" font-size="10.5" text-anchor="middle" fill="#000">cA</text>
<text x="210.97" y="406.5" font-size="10.5" text-anchor="middle" fill="#000">aA</text>
<text x="228.75" y="460.2" font-size="10.5" text-anchor="middle" fill="#000">bC</text>
<text x="246.22" y="424.2" font-size="10.5" text-anchor="middle" fill="#000">bB</text>
<text x="281.18" y="399.9" font-size="10.5" text-anchor="middle" fill="#000">aA</text>
<text x="298.65" y="439.1" font-size="10.5" text-anchor="middle" fill="#000">aB</text>
<text x="316.53" y="397.4" font-size="10.5" text-anchor="middle" fill="#000">aA</text>
<text x="351.07" y="403.2" font-size="10.5" text-anchor="middle" fill="#000">aA</text>
<text x="368.55" y="444.7" font-size="10.5" text-anchor="middle" fill="#000">aB</text>
<text x="386.03" y="449.7" font-size="10.5" text-anchor="middle" fill="#000">dC</text>
<text x="422.27" y="417.4" font-size="10.5" text-anchor="middle" fill="#000">aB</text>
<text x="438.45" y="456" font-size="10.5" text-anchor="middle" fill="#000">bC</text>
<text x="455.93" y="401" font-size="10.5" text-anchor="middle" fill="#000">aA</text>
<line x1="43.70" x2="47.0" y1="399.8" y2="399.8" stroke="#2E2E2E" stroke-width="1.22"/>
<text x="41.30" y="403.50" font-size="10.4" text-anchor="end" fill="#4D4D4D">0.95</text>
<line x1="43.70" x2="47.0" y1="428.1" y2="428.1" stroke="#2E2E2E" stroke-width="1.22"/>
<text x="41.30" y="431.80" font-size="10.4" text-anchor="end" fill="#4D4D4D">0.90</text>
<line x1="43.70" x2="47.0" y1="456.4" y2="456.4" stroke="#2E2E2E" stroke-width="1.22"/>
<text x="41.30" y="460.10" font-size="10.4" text-anchor="end" fill="#4D4D4D">0.85</text>
<line x1="43.70" x2="47.0" y1="484.7" y2="484.7" stroke="#2E2E2E" stroke-width="1.22"/>
<text x="41.30" y="488.40" font-size="10.4" text-anchor="end" fill="#4D4D4D">0.80</text>
<line x1="43.70" x2="47.0" y1="513.0" y2="513.0" stroke="#2E2E2E" stroke-width="1.22"/>
<text x="41.30" y="516.70" font-size="10.4" text-anchor="end" fill="#4D4D4D">0.75</text>
<line x1="43.70" x2="47.0" y1="541.15" y2="541.15" stroke="#2E2E2E" stroke-width="1.22"/>
<text x="41.30" y="544.85" font-size="10.4" text-anchor="end" fill="#4D4D4D">0.70</text>
<line x1="88.95" x2="88.95" y1="542.2" y2="545.50" stroke="#2E2E2E" stroke-width="1.22"/>
<text x="88.95" y="556.1" font-size="10.4" text-anchor="middle" fill="#4D4D4D">J48</text>
<line x1="158.85" x2="158.85" y1="542.2" y2="545.50" stroke="#2E2E2E" stroke-width="1.22"/>
<text x="158.85" y="556.1" font-size="10.4" text-anchor="middle" fill="#4D4D4D">REPTree</text>
<line x1="228.75" x2="228.75" y1="542.2" y2="545.50" stroke="#2E2E2E" stroke-width="1.22"/>
<text x="228.75" y="556.1" font-size="10.4" text-anchor="middle" fill="#4D4D4D">RF</text>
<line x1="298.65" x2="298.65" y1="542.2" y2="545.50" stroke="#2E2E2E" stroke-width="1.22"/>
<text x="298.65" y="556.1" font-size="10.4" text-anchor="middle" fill="#4D4D4D">LR</text>
<line x1="368.55" x2="368.55" y1="542.2" y2="545.50" stroke="#2E2E2E" stroke-width="1.22"/>
<text x="368.55" y="556.1" font-size="10.4" text-anchor="middle" fill="#4D4D4D">ANN</text>
<line x1="438.45" x2="438.45" y1="542.2" y2="545.50" stroke="#2E2E2E" stroke-width="1.22"/>
<text x="438.45" y="556.1" font-size="10.4" text-anchor="middle" fill="#4D4D4D">SVM</text>
<text x="263.75" y="569.9" font-size="12.6" text-anchor="middle" fill="#000">ML</text>
<text transform="translate(15.2 467.95) rotate(-90)" font-size="12.6" text-anchor="middle" fill="#000">Fscore</text>
<text x="499.6" y="439.00" font-size="12.6" fill="#000">Input</text>
<rect x="500.3" y="447.68" width="17.8" height="59.75" fill="#F2F2F2"/>
<line x1="509.5" x2="509.5" y1="449.70" y2="465.20" stroke="#2E2E2E" stroke-width="1.2"/>
<rect x="502.05" y="452.50" width="14.9" height="10.0" fill="#03544A" stroke="#2E2E2E" stroke-width="1.2"/>
<line x1="502.05" x2="516.95" y1="457.5" y2="457.5" stroke="#2E2E2E" stroke-width="1.2"/>
<text x="526.0" y="461.10" font-size="10.0" fill="#000">SB</text>
<line x1="509.5" x2="509.5" y1="469.75" y2="485.25" stroke="#2E2E2E" stroke-width="1.2"/>
<rect x="502.05" y="472.55" width="14.9" height="10.0" fill="#8EE2D0" stroke="#2E2E2E" stroke-width="1.2"/>
<line x1="502.05" x2="516.95" y1="477.55" y2="477.55" stroke="#2E2E2E" stroke-width="1.2"/>
<text x="526.0" y="481.15" font-size="10.0" fill="#000">VIs</text>
<line x1="509.5" x2="509.5" y1="489.80" y2="505.30" stroke="#2E2E2E" stroke-width="1.2"/>
<rect x="502.05" y="492.60" width="14.9" height="10.0" fill="#0AD755" stroke="#2E2E2E" stroke-width="1.2"/>
<line x1="502.05" x2="516.95" y1="497.6" y2="497.6" stroke="#2E2E2E" stroke-width="1.2"/>
<text x="526.0" y="501.20" font-size="10.0" fill="#000">ALL</text>
</g>
</svg></body></html>
